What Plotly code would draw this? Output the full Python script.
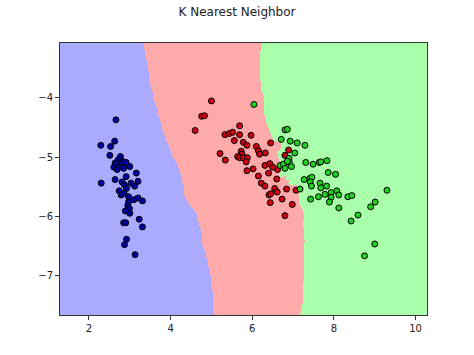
import numpy as np
import plotly.graph_objects as go

# ---- data ----
blue_x = [2.66, 2.63, 2.29, 2.53, 2.51, 2.77, 2.71, 2.82, 2.91, 2.64, 2.78, 3.00, 2.61, 2.73, 2.69,
          2.85, 3.16, 2.91, 2.64, 2.81, 3.20, 3.03, 2.87, 2.30, 3.12, 2.92, 2.74, 2.79, 2.86, 2.97,
          3.10, 3.20, 3.31, 2.97, 2.95, 2.99, 2.89, 3.00, 3.23, 2.85, 2.90, 3.31, 2.92, 2.87, 3.13]
blue_y = [-4.37, -4.73, -4.80, -4.82, -4.97, -4.99, -5.05, -5.07, -5.09, -5.10, -5.12, -5.16, -5.17, -5.17, -5.21,
          -5.19, -5.27, -5.33, -5.38, -5.42, -5.41, -5.44, -5.47, -5.44, -5.49, -5.53, -5.57, -5.64, -5.61, -5.67,
          -5.72, -5.69, -5.74, -5.76, -5.82, -5.87, -5.91, -5.95, -6.05, -6.11, -6.11, -6.18, -6.39, -6.48, -6.65]

red_x = [5.00, 4.76, 4.83, 4.60, 5.69, 5.33, 5.44, 5.52, 5.69, 5.97, 5.56, 5.78, 5.87, 6.10, 6.45,
         5.21, 5.73, 5.75, 6.15, 6.18, 6.32, 5.64, 5.69, 5.78, 5.88, 5.34, 5.85, 6.31, 6.43, 6.50,
         6.62, 6.02, 5.87, 6.15, 6.40, 6.60, 6.22, 6.31, 6.55, 6.84, 6.61, 7.07, 6.41, 6.45, 6.73,
         6.44, 6.98, 6.80, 6.89, 6.80]
red_y = [-4.05, -4.31, -4.30, -4.55, -4.47, -4.62, -4.60, -4.58, -4.62, -4.63, -4.72, -4.75, -4.80, -4.82, -4.76,
         -4.94, -4.90, -4.95, -4.89, -4.95, -4.93, -4.99, -5.01, -5.01, -5.01, -5.05, -5.08, -5.14, -5.11, -5.17,
         -5.21, -5.20, -5.23, -5.32, -5.27, -5.37, -5.44, -5.49, -5.53, -5.54, -5.59, -5.56, -5.64, -5.62, -5.71,
         -5.77, -5.80, -5.99, -4.88, -4.97]

green_x = [6.04, 6.80, 6.86, 6.71, 6.93, 7.10, 7.29, 7.04, 6.90, 6.91, 6.68, 6.76, 6.80, 6.96, 6.86,
           7.31, 7.49, 7.64, 7.68, 7.83, 7.86, 8.04, 7.27, 7.41, 7.46, 7.42, 7.45, 7.66, 7.68, 7.82,
           7.17, 7.43, 7.62, 7.78, 7.93, 7.93, 7.89, 8.07, 8.12, 8.34, 8.44, 8.12, 9.30, 9.01, 8.90,
           8.59, 8.42, 9.00, 8.75]
green_y = [-4.11, -4.54, -4.53, -4.70, -4.73, -4.76, -4.80, -4.93, -5.02, -5.09, -5.14, -5.12, -5.19, -5.16, -5.07,
           -5.09, -5.12, -5.09, -5.08, -5.06, -5.26, -5.29, -5.38, -5.36, -5.34, -5.42, -5.49, -5.44, -5.52, -5.49,
           -5.54, -5.71, -5.67, -5.63, -5.60, -5.68, -5.76, -5.57, -5.64, -5.67, -5.65, -5.86, -5.56, -5.76, -5.84,
           -5.98, -6.08, -6.47, -6.67]

title = "K Nearest Neighbor"
n_neighbors = 5
x_ticks = [2, 4, 6, 8, 10]
y_ticks = [-4, -5, -6, -7]

# ---- KNN decision regions computed from the points ----
X = np.array([blue_x + red_x + green_x, blue_y + red_y + green_y]).T
lab = np.array([0] * len(blue_x) + [1] * len(red_x) + [2] * len(green_x))

h = 0.02
x_min, x_max = X[:, 0].min() - 1, X[:, 0].max() + 1
y_min, y_max = X[:, 1].min() - 1, X[:, 1].max() + 1
gx = np.arange(x_min, x_max, h)
gy = np.arange(y_min, y_max, h)
xx, yy = np.meshgrid(gx, gy)
P = np.c_[xx.ravel(), yy.ravel()]
d = ((P[:, None, :] - X[None, :, :]) ** 2).sum(-1)
idx = np.argsort(d, axis=1, kind="stable")[:, :n_neighbors]
votes = np.stack([(lab[idx] == c).sum(1) for c in range(3)], axis=1)
Z = votes.argmax(1).reshape(xx.shape)

light = ["#AAAAFF", "#FFAAAA", "#AAFFAA"]
cs = [[0, light[0]], [1/3, light[0]], [1/3, light[1]], [2/3, light[1]], [2/3, light[2]], [1, light[2]]]

fig = go.Figure()
fig.add_trace(go.Heatmap(x=gx, y=gy, z=Z, zmin=-0.5, zmax=2.5, colorscale=cs,
                         showscale=False, hoverinfo="skip"))
for xs, ys, col in [(blue_x, blue_y, "#0000A0"), (red_x, red_y, "#D00012"), (green_x, green_y, "#20D020")]:
    fig.add_trace(go.Scatter(x=xs, y=ys, mode="markers",
                             marker=dict(size=6, color=col, line=dict(color="black", width=1)),
                             showlegend=False))

axis_common = dict(showgrid=False, zeroline=False, showline=True, linecolor="#333333", linewidth=1,
                   mirror=True, ticks="outside", ticklen=4, tickcolor="#333333",
                   tickfont=dict(family="DejaVu Sans", size=10, color="#222222"))
fig.update_layout(
    width=474, height=355,
    margin=dict(l=60, r=47, t=43, b=40),
    paper_bgcolor="white", plot_bgcolor="white",
    title=dict(text=title, x=0.5, xanchor="center", y=1 - 12 / 355, yanchor="middle",
               font=dict(family="DejaVu Sans", size=12, color="#222222")),
    xaxis=dict(range=[x_min, x_max - h], tickvals=x_ticks, **axis_common),
    yaxis=dict(range=[y_min, y_max - h], tickvals=y_ticks, **axis_common),
)
fig.write_html("out.html")
